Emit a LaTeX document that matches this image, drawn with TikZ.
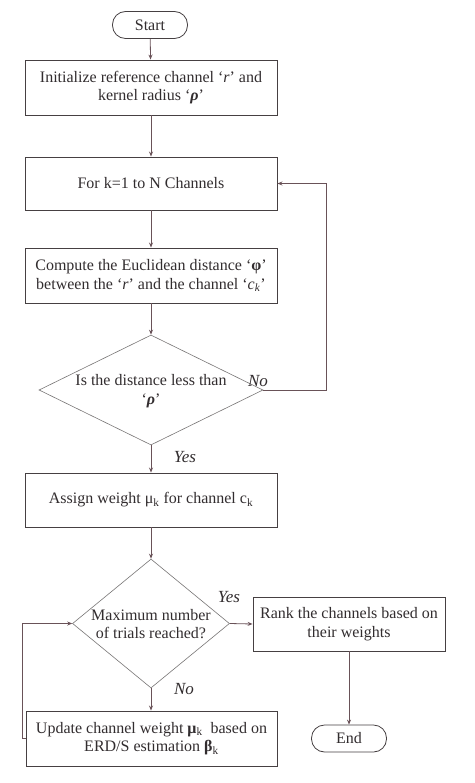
\documentclass[tikz,border=0pt]{standalone}
\usepackage{fontspec}
\setmainfont{Liberation Serif}
\usetikzlibrary{shapes.geometric,arrows.meta}
\definecolor{boxline}{RGB}{70,64,66}
\definecolor{conn}{RGB}{105,82,88}
\definecolor{txt}{RGB}{50,45,47}
\definecolor{decline}{RGB}{120,118,118}
\tikzset{
  procbox/.style={draw=boxline, line width=0.9pt, rectangle, minimum width=252pt, minimum height=55pt, inner sep=2pt, align=center, text=txt},
  termbox/.style={draw=boxline, line width=0.8pt, rectangle, rounded corners=13pt, minimum width=75pt, minimum height=27pt, inner sep=0pt, text=txt},
  decbox/.style={draw=decline, line width=0.6pt, diamond, inner sep=0pt},
  dectext/.style={align=center, text=txt, inner sep=0pt},
  lbl/.style={text=txt, font=\fontsize{17}{20}\selectfont\itshape, inner sep=0pt},
  conline/.style={draw=conn, line width=0.8pt, -{Stealth[length=5pt,width=4pt]}},
}
\begin{document}
\begin{tikzpicture}[x=1pt, y=-1pt, font=\fontsize{16}{18.5}\selectfont]
\useasboundingbox[fill=white] (0,0) rectangle (474,783);
\node[termbox] (start) at (150,25) {Start};
\node[procbox] (init) at (151,87.5) {Initialize reference channel ‘\textit{r}’ and\\kernel radius ‘\textbf{\textit{ρ}}’};
\node[procbox, minimum height=53pt] (for) at (151,183.5) {For k=1 to N Channels};
\node[procbox] (comp) at (151,275.5) {Compute the Euclidean distance ‘\textbf{φ}’\\between the ‘\textit{r}’ and the channel ‘\textit{c}\textsubscript{\textit{k}}’};
\node[decbox, minimum width=224pt, minimum height=110pt] (d1) at (151,390) {};
\node[dectext] (d1t) at (151,391) {Is the distance less than\\‘\textbf{\textit{ρ}}’};
\node[procbox, minimum height=54pt] (assign) at (151,500) {Assign weight μ\textsubscript{k} for channel c\textsubscript{k}};
\node[decbox, minimum width=157pt, minimum height=129pt] (d2) at (151,623.5) {};
\node[dectext] (d2t) at (151,624) {Maximum number\\of trials reached?};
\node[procbox, minimum width=192pt, minimum height=54pt] (rank) at (349,624) {Rank the channels based on\\their weights};
\node[procbox, minimum width=251pt] (update) at (151.5,738.5) {Update channel weight \textbf{μ}\textsubscript{k}\ \ based on\\ERD/S estimation \textbf{β}\textsubscript{k}};
\node[termbox] (end) at (349,738.5) {End};

\node[lbl] (no1) at (258,381) {No};
\node[lbl] (yes1) at (185,457) {Yes};
\node[lbl] (yes2) at (229,597) {Yes};
\node[lbl] (no2) at (184,689) {No};

\draw[conline] (start) -- (init);
\draw[conline] (init) -- (for);
\draw[conline] (for) -- (comp);
\draw[conline] (comp) -- (d1.north);
\draw[conline] (d1.south) -- (assign);
\draw[conline] (d1.east) -- ++(63,0) |- (for.east);
\draw[conline] (assign) -- (d2.north);
\draw[conline] (d2.east) -- (rank.west);
\draw[conline] (d2.south) -- (update.north -| d2.south);
\draw[conline] (rank) -- (end);
\draw[conline] (update.west) -- ++(-3,0) |- (d2.west);
\end{tikzpicture}
\end{document}
